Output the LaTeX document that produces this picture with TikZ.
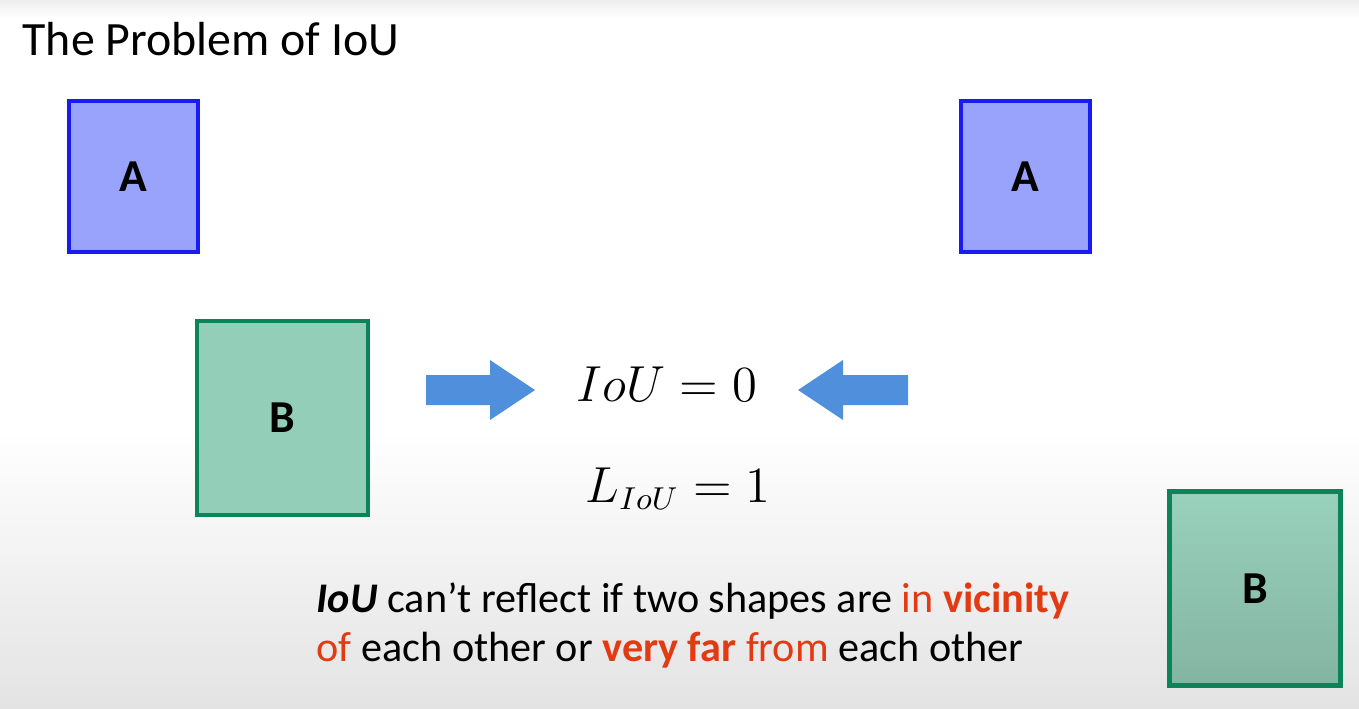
\documentclass[tikz,border=0pt]{standalone}
\usepackage{fontspec}
\setmainfont{Carlito}
\usepackage{amsmath}
\usetikzlibrary{positioning}

\definecolor{boxblue}{HTML}{1A1AF5}
\definecolor{boxbluefill}{HTML}{99A3FC}
\definecolor{boxgreen}{HTML}{0B8457}
\definecolor{boxgreenfill}{HTML}{93CFB8}
\definecolor{arrowblue}{HTML}{4F8FDB}
\definecolor{noteorange}{HTML}{E23A12}
\definecolor{bggray}{HTML}{E3E3E3}

\begin{document}
\begin{tikzpicture}[x=0.01cm, y=-0.01cm]
	\tikzset{
		boxa/.style={rectangle, draw=boxblue, fill=boxbluefill, line width=1.2pt, minimum width=1.29cm, minimum height=1.51cm, font=\fontsize{13}{15}\selectfont\bfseries},
		boxb/.style={rectangle, draw=boxgreen, fill=boxgreenfill, line width=1.2pt, minimum width=1.71cm, minimum height=1.94cm, font=\fontsize{13}{15}\selectfont\bfseries},
		blockarrow/.style={fill=arrowblue},
		mylabel/.style={inner sep=0pt, font=\fontsize{13.6}{16}\selectfont},
		mymath/.style={inner sep=0pt, font=\fontsize{13.4}{16}\selectfont},
		mynote/.style={inner sep=0pt, anchor=base west, font=\fontsize{12}{15}\selectfont}
	}

	% background
	\fill[white] (0,0) rectangle (1359,709);
	\shade[top color=white, bottom color=bggray] (0,430) rectangle (1359,709);
	\shade[top color=bggray!60, bottom color=white] (0,0) rectangle (1359,18);
	\useasboundingbox (0,0) rectangle (1359,709);

	\node[mylabel, anchor=base west] (title) at (22,55) {The Problem of IoU};

	% left pair
	\node[boxa] (A1) at (133.5,176.5) {A};
	\node[boxb] (B1) at (282.5,418) {B};

	% right pair
	\node[boxa] (A2) at (1025.5,176.5) {A};
	\node[boxb, top color=boxgreenfill!95, bottom color=boxgreenfill!85!black!95] (B2) at (1255,588.5) {B};

	% arrows
	\fill[blockarrow] (426,375) -- (490,375) -- (490,360) -- (535,390) -- (490,420) -- (490,405) -- (426,405) -- cycle;
	\fill[blockarrow] (908,375) -- (843,375) -- (843,360) -- (798,390) -- (843,420) -- (843,405) -- (908,405) -- cycle;

	\node[mymath, anchor=base] (iou) at (667,401) {$IoU = 0$};
	\node[mymath, anchor=base west] (loss) at (585,502) {$L_{IoU} = 1$};

	\node[mynote] (note1) at (316,612) {\textbf{\textit{IoU}} can’t reflect if two shapes are \textcolor{noteorange}{in \textbf{vicinity}}};
	\node[mynote] (note2) at (316,662) {\textcolor{noteorange}{of} each other or \textcolor{noteorange}{\textbf{very far} from} each other};
\end{tikzpicture}
\end{document}
